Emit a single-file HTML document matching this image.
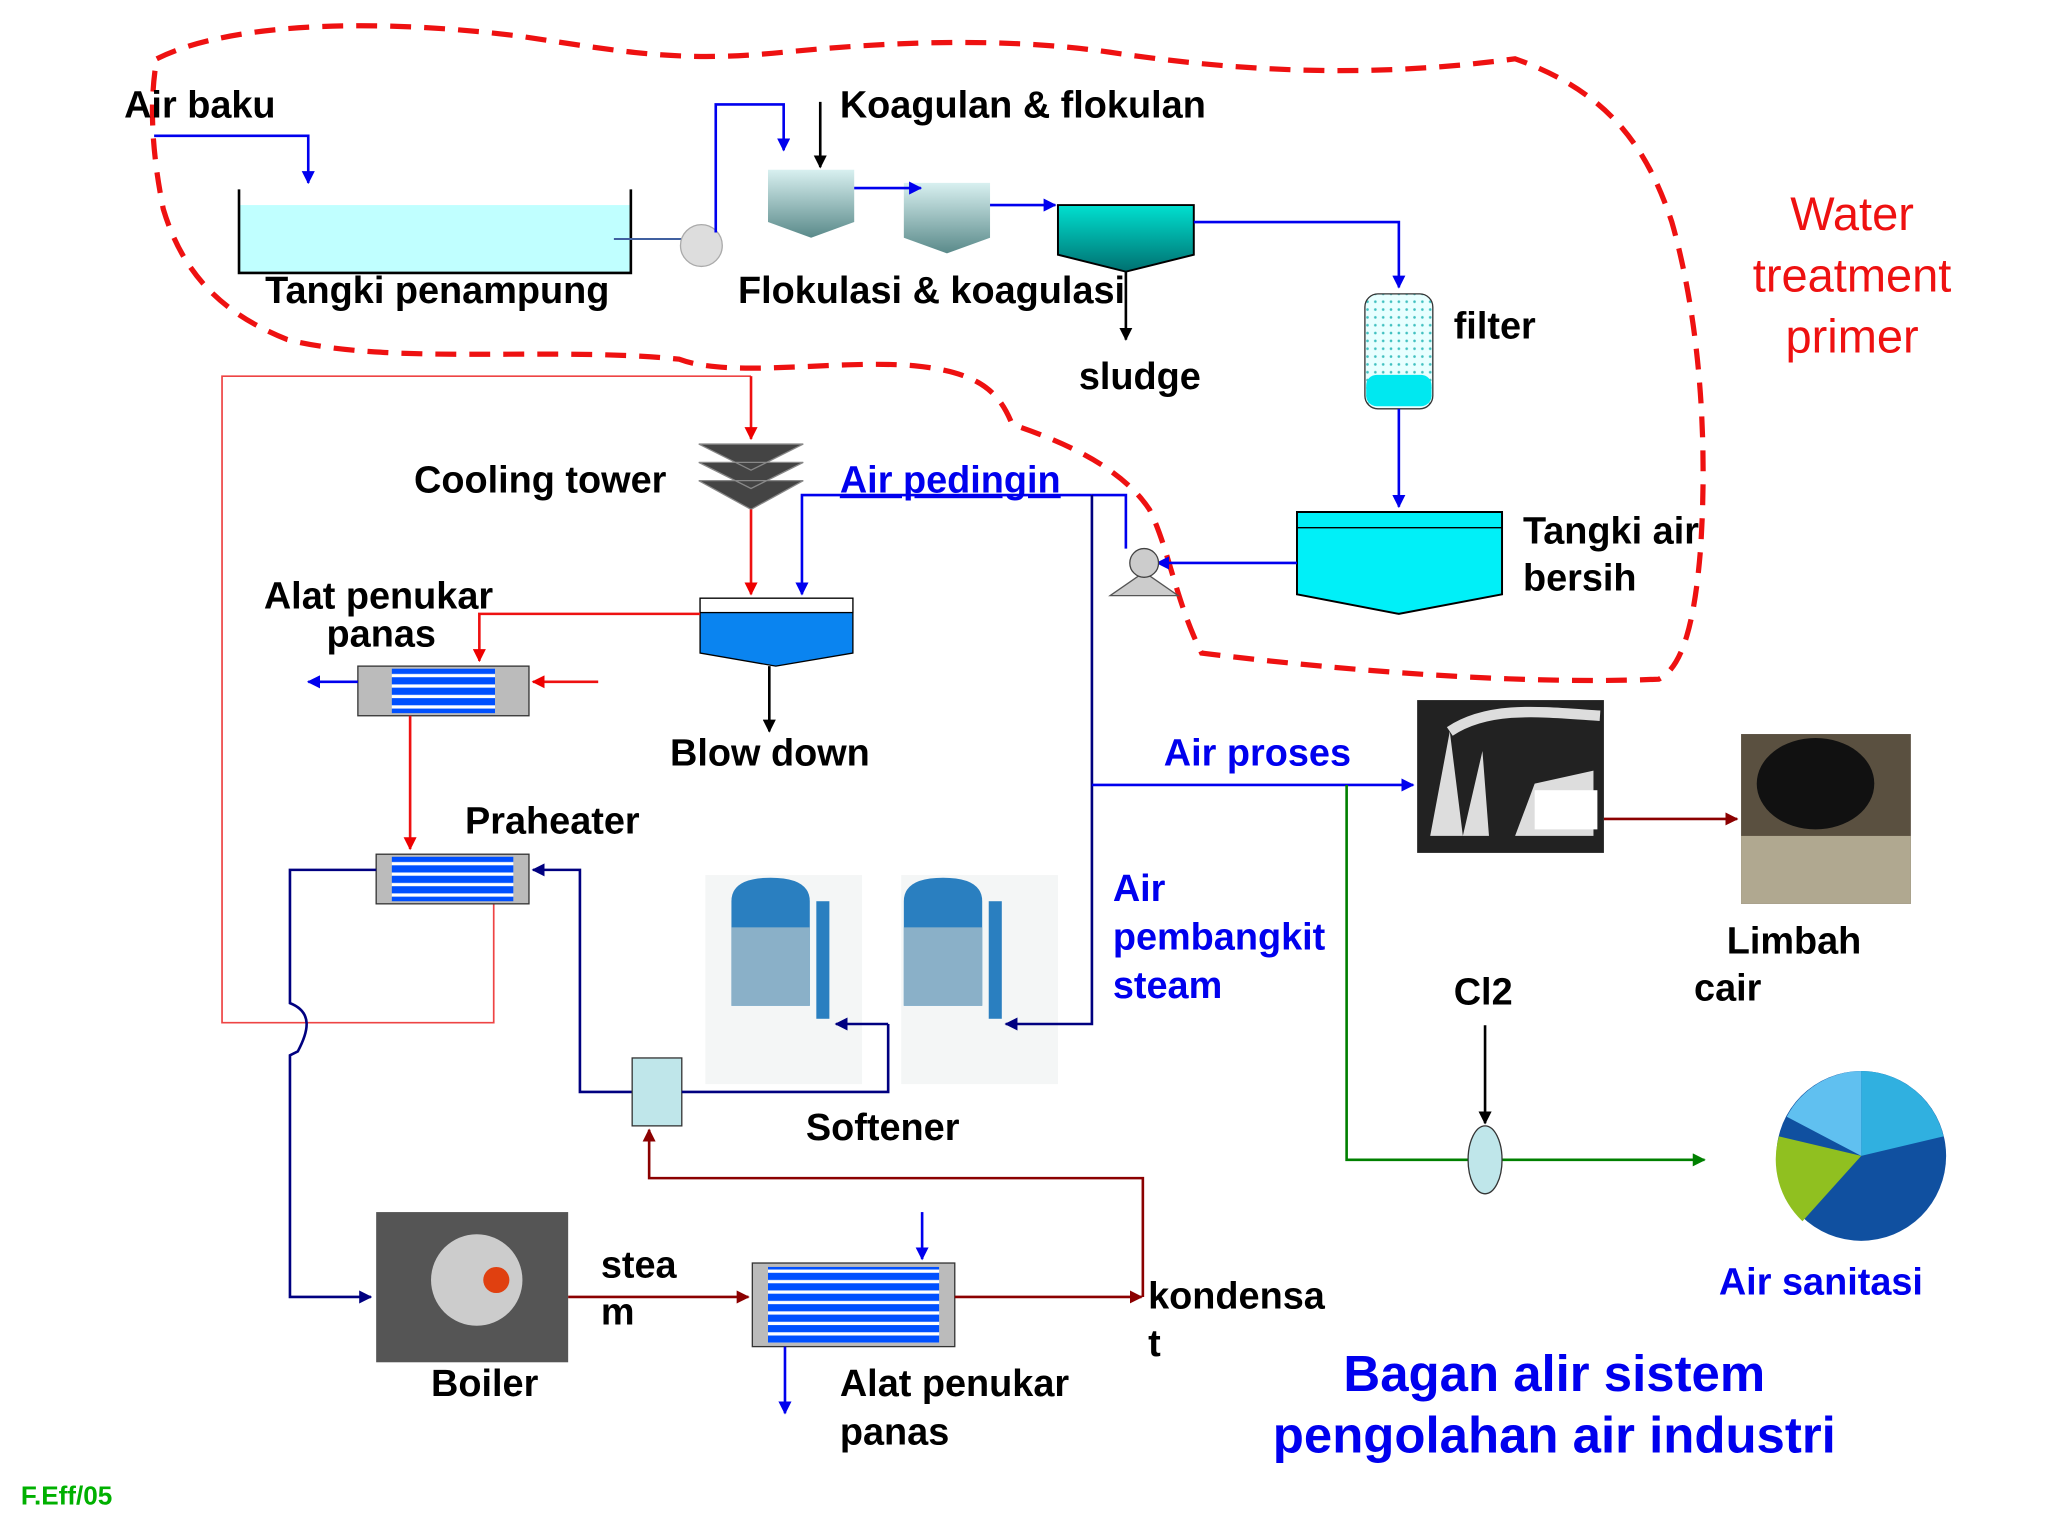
<!DOCTYPE html>
<html><head><meta charset="utf-8"><style>
html,body{margin:0;padding:0;background:#fff;}
svg{display:block;}
text{font-family:"Liberation Sans",Arial,sans-serif;font-weight:bold;}
</style></head><body>
<svg width="2048" height="1536" viewBox="0 0 1568 1176" xmlns="http://www.w3.org/2000/svg">
<defs>
<marker id="ab" markerWidth="10" markerHeight="10" refX="9" refY="5" orient="auto" markerUnits="userSpaceOnUse"><path d="M0,0 L10,5 L0,10 z" fill="#0000ee"/></marker>
<marker id="ar" markerWidth="10" markerHeight="10" refX="9" refY="5" orient="auto" markerUnits="userSpaceOnUse"><path d="M0,0 L10,5 L0,10 z" fill="#ee0000"/></marker>
<marker id="ak" markerWidth="10" markerHeight="10" refX="9" refY="5" orient="auto" markerUnits="userSpaceOnUse"><path d="M0,0 L10,5 L0,10 z" fill="#000"/></marker>
<marker id="am" markerWidth="10" markerHeight="10" refX="9" refY="5" orient="auto" markerUnits="userSpaceOnUse"><path d="M0,0 L10,5 L0,10 z" fill="#8b0000"/></marker>
<marker id="an" markerWidth="10" markerHeight="10" refX="9" refY="5" orient="auto" markerUnits="userSpaceOnUse"><path d="M0,0 L10,5 L0,10 z" fill="#000080"/></marker>
<marker id="ag" markerWidth="10" markerHeight="10" refX="9" refY="5" orient="auto" markerUnits="userSpaceOnUse"><path d="M0,0 L10,5 L0,10 z" fill="#008000"/></marker>
<linearGradient id="gt" x1="0" y1="0" x2="0" y2="1"><stop offset="0" stop-color="#d8f0f0"/><stop offset="1" stop-color="#5a8a8a"/></linearGradient>
<linearGradient id="gc" x1="0" y1="0" x2="0" y2="1"><stop offset="0" stop-color="#00e0d0"/><stop offset="1" stop-color="#007070"/></linearGradient>
<pattern id="hx" width="8" height="8" patternUnits="userSpaceOnUse"><rect width="8" height="8" fill="#0050ff"/><rect y="4" width="8" height="2.5" fill="#fff"/></pattern>
<pattern id="dots" width="6" height="6" patternUnits="userSpaceOnUse"><rect width="6" height="6" fill="#e8ffff"/><circle cx="3" cy="3" r="1" fill="#40c0c0"/></pattern>
</defs>

<path d="M120,45 C180,15 300,15 400,28 C480,40 520,48 600,40 C700,30 780,30 850,40 C950,55 1050,60 1160,45 C1230,70 1260,110 1280,170 C1300,240 1308,330 1302,420 C1298,470 1290,510 1270,520 C1150,525 1000,510 920,500 C900,460 895,420 880,390 C860,360 820,340 775,325 C765,300 750,285 700,280 C640,275 560,290 520,275 C420,265 300,280 220,260 C170,240 140,210 125,160 C115,110 115,75 120,45 Z" fill="none" stroke="#ee1111" stroke-width="4" stroke-dasharray="16,10"/>

<text x="95" y="90" font-size="29">Air baku</text>
<polyline points="118,104 236,104 236,140" fill="none" stroke="#0000ee" stroke-width="2" marker-end="url(#ab)"/>
<rect x="183" y="157" width="300" height="52" fill="#c0ffff"/>
<polyline points="183,145 183,209 483,209 483,145" fill="none" stroke="#000" stroke-width="2"/>
<text x="203" y="232" font-size="29">Tangki penampung</text>
<line x1="470" y1="183" x2="525" y2="183" stroke="#4060a0" stroke-width="1.5"/>
<circle cx="537" cy="188" r="16" fill="#ddd" stroke="#aaa"/>
<polyline points="548,178 548,80 600,80 600,115" fill="none" stroke="#0000ee" stroke-width="2" marker-end="url(#ab)"/>
<line x1="628" y1="78" x2="628" y2="128" stroke="#000" stroke-width="2" marker-end="url(#ak)"/>
<text x="643" y="90" font-size="29">Koagulan &amp; flokulan</text>
<path d="M588,130 L654,130 L654,170 L621,182 L588,170 Z" fill="url(#gt)"/>
<path d="M692,140 L758,140 L758,182 L725,194 L692,182 Z" fill="url(#gt)"/>
<line x1="654" y1="144" x2="705" y2="144" stroke="#0000ee" stroke-width="2" marker-end="url(#ab)"/>
<line x1="758" y1="157" x2="808" y2="157" stroke="#0000ee" stroke-width="2" marker-end="url(#ab)"/>
<path d="M810,157 L914,157 L914,195 L862,208 L810,195 Z" fill="url(#gc)" stroke="#000" stroke-width="1.5"/>
<line x1="862" y1="208" x2="862" y2="260" stroke="#000" stroke-width="2" marker-end="url(#ak)"/>
<text x="565" y="232" font-size="29">Flokulasi &amp; koagulasi</text>
<text x="826" y="298" font-size="29">sludge</text>
<polyline points="914,170 1071,170 1071,220" fill="none" stroke="#0000ee" stroke-width="2" marker-end="url(#ab)"/>
<rect x="1045" y="225" width="52" height="88" rx="10" fill="url(#dots)" stroke="#333"/>
<rect x="1046" y="287" width="50" height="24" rx="8" fill="#00e8f0"/>
<text x="1113" y="259" font-size="29">filter</text>
<line x1="1071" y1="313" x2="1071" y2="388" stroke="#0000ee" stroke-width="2" marker-end="url(#ab)"/>
<path d="M993,392 L1150,392 L1150,455 L1071,470 L993,455 Z" fill="#00f0f8" stroke="#000" stroke-width="1.5"/>
<line x1="993" y1="404" x2="1150" y2="404" stroke="#000"/>
<text x="1166" y="416" font-size="29">Tangki air</text>
<text x="1166" y="452" font-size="29">bersih</text>
<line x1="993" y1="431" x2="886" y2="431" stroke="#0000ee" stroke-width="2" marker-end="url(#ab)"/>
<path d="M850,456 L876,438 L902,456 Z" fill="#ccc" stroke="#555"/>
<circle cx="876" cy="431" r="11" fill="#ccc" stroke="#444"/>
<polyline points="862,420 862,379 836,379" fill="none" stroke="#0000ee" stroke-width="2"/>
<text x="1418" y="176" font-size="36" fill="#ee1111" style="font-weight:normal" text-anchor="middle">Water</text>
<text x="1418" y="223" font-size="36" fill="#ee1111" style="font-weight:normal" text-anchor="middle">treatment</text>
<text x="1418" y="270" font-size="36" fill="#ee1111" style="font-weight:normal" text-anchor="middle">primer</text>

<polyline points="575,288 170,288 170,783 378,783 378,690" fill="none" stroke="#ee4444" stroke-width="1.3"/>
<line x1="575" y1="288" x2="575" y2="336" stroke="#ee1111" stroke-width="2" marker-end="url(#ar)"/>
<path d="M535,340 L615,340 L575,360 Z M535,354 L615,354 L575,374 Z M535,368 L615,368 L575,390 Z" fill="#444" stroke="#888"/>
<text x="317" y="377" font-size="29">Cooling tower</text>
<text x="643" y="377" font-size="29" fill="#0000ee" text-decoration="underline">Air pedingin</text>
<line x1="575" y1="390" x2="575" y2="455" stroke="#ee1111" stroke-width="2" marker-end="url(#ar)"/>
<polyline points="836,379 614,379 614,455" fill="none" stroke="#0000ee" stroke-width="2" marker-end="url(#ab)"/>
<path d="M536,458 L653,458 L653,500 L594,510 L536,500 Z" fill="#0a84f0" stroke="#000"/>
<rect x="536" y="458" width="117" height="11" fill="#fff" stroke="#000"/>
<line x1="589" y1="510" x2="589" y2="560" stroke="#000" stroke-width="2" marker-end="url(#ak)"/>
<text x="513" y="586" font-size="29">Blow down</text>
<text x="202" y="466" font-size="29">Alat penukar</text>
<text x="250" y="495" font-size="29">panas</text>
<polyline points="536,470 367,470 367,506" fill="none" stroke="#ee1111" stroke-width="2" marker-end="url(#ar)"/>
<rect x="274" y="510" width="131" height="38" fill="#bbb" stroke="#333"/>
<rect x="300" y="512" width="79" height="34" fill="url(#hx)"/>
<line x1="458" y1="522" x2="408" y2="522" stroke="#ee1111" stroke-width="2" marker-end="url(#ar)"/>
<line x1="274" y1="522" x2="236" y2="522" stroke="#0000ee" stroke-width="2" marker-end="url(#ab)"/>
<line x1="314" y1="548" x2="314" y2="650" stroke="#ee1111" stroke-width="2" marker-end="url(#ar)"/>
<text x="356" y="638" font-size="29">Praheater</text>
<rect x="288" y="654" width="117" height="38" fill="#bbb" stroke="#333"/>
<rect x="300" y="656" width="93" height="34" fill="url(#hx)"/>
<path d="M288,666 L222,666 L222,768 C240,775 236,790 228,805 L222,808 L222,993 L284,993" fill="none" stroke="#000080" stroke-width="2" marker-end="url(#an)"/>
<polyline points="484,836 444,836 444,666 408,666" fill="none" stroke="#000080" stroke-width="2" marker-end="url(#an)"/>
<rect x="484" y="810" width="38" height="52" fill="#bfe6ea" stroke="#333"/>
<g>
<rect x="540" y="670" width="120" height="160" fill="#f4f6f6"/>
<path d="M560,690 Q560,672 590,672 Q620,672 620,690 L620,770 L560,770 Z" fill="#2a7fc0"/>
<rect x="560" y="710" width="60" height="60" fill="#8ab0c8"/>
<rect x="625" y="690" width="10" height="90" fill="#2a7fc0"/>
<rect x="690" y="670" width="120" height="160" fill="#f4f6f6"/>
<path d="M692,690 Q692,672 722,672 Q752,672 752,690 L752,770 L692,770 Z" fill="#2a7fc0"/>
<rect x="692" y="710" width="60" height="60" fill="#8ab0c8"/>
<rect x="757" y="690" width="10" height="90" fill="#2a7fc0"/>
</g>
<polyline points="836,379 836,784 770,784" fill="none" stroke="#000080" stroke-width="2" marker-end="url(#an)"/>
<polyline points="680,784 680,836 588,836" fill="none" stroke="#000080" stroke-width="2"/>
<polyline points="680,784 640,784" fill="none" stroke="#000080" stroke-width="2" marker-end="url(#an)"/>
<polyline points="588,836 522,836" fill="none" stroke="#000080" stroke-width="2"/>
<text x="617" y="873" font-size="29">Softener</text>
<text x="852" y="690" font-size="29" fill="#0000ee">Air</text>
<text x="852" y="727" font-size="29" fill="#0000ee">pembangkit</text>
<text x="852" y="764" font-size="29" fill="#0000ee">steam</text>
<line x1="836" y1="601" x2="1082" y2="601" stroke="#0000ee" stroke-width="2" marker-end="url(#ab)"/>
<text x="891" y="586" font-size="29" fill="#0000ee">Air proses</text>
<rect x="1085" y="536" width="143" height="117" fill="#222"/>
<path d="M1095,640 L1110,560 L1120,640 L1135,575 L1140,640 L1220,640 L1220,590 L1175,600 L1160,640 Z" fill="#ddd"/>
<rect x="1175" y="605" width="48" height="30" fill="#fff"/>
<path d="M1110,560 C1140,540 1180,545 1225,548" fill="none" stroke="#ddd" stroke-width="8"/>
<line x1="1228" y1="627" x2="1330" y2="627" stroke="#8b0000" stroke-width="2" marker-end="url(#am)"/>
<rect x="1333" y="562" width="130" height="130" fill="#5a5040"/>
<ellipse cx="1390" cy="600" rx="45" ry="35" fill="#111"/>
<rect x="1333" y="640" width="130" height="52" fill="#b0a890"/>
<text x="1322" y="730" font-size="29">Limbah</text>
<text x="1297" y="766" font-size="29">cair</text>
<polyline points="1031,601 1031,888 1305,888" fill="none" stroke="#008000" stroke-width="2" marker-end="url(#ag)"/>
<ellipse cx="1137" cy="888" rx="13" ry="26" fill="#bfe6ea" stroke="#333"/>
<line x1="1137" y1="785" x2="1137" y2="860" stroke="#000" stroke-width="2" marker-end="url(#ak)"/>
<text x="1113" y="769" font-size="29">Cl2</text>
<circle cx="1425" cy="885" r="65" fill="#1050a0"/>
<path d="M1425,885 L1425,820 A65,65 0 0,1 1488,870 Z" fill="#30b0e0"/>
<path d="M1425,885 L1368,855 A65,65 0 0,1 1425,820 Z" fill="#60c0f0"/>
<path d="M1425,885 L1380,935 A65,65 0 0,1 1362,870 Z" fill="#90c020"/>
<text x="1316" y="991" font-size="29" fill="#0000ee">Air sanitasi</text>
<rect x="288" y="928" width="147" height="115" fill="#555"/>
<circle cx="365" cy="980" r="35" fill="#ccc"/>
<circle cx="380" cy="980" r="10" fill="#e04010"/>
<text x="330" y="1069" font-size="29">Boiler</text>
<line x1="435" y1="993" x2="573" y2="993" stroke="#8b0000" stroke-width="2" marker-end="url(#am)"/>
<text x="460" y="978" font-size="29">stea</text>
<text x="460" y="1014" font-size="29">m</text>
<rect x="576" y="967" width="155" height="64" fill="#bbb" stroke="#333"/>
<rect x="588" y="970" width="131" height="58" fill="url(#hx)"/>
<line x1="706" y1="928" x2="706" y2="964" stroke="#0000ee" stroke-width="2" marker-end="url(#ab)"/>
<line x1="601" y1="1031" x2="601" y2="1082" stroke="#0000ee" stroke-width="2" marker-end="url(#ab)"/>
<line x1="731" y1="993" x2="874" y2="993" stroke="#8b0000" stroke-width="2" marker-end="url(#am)"/>
<polyline points="875,993 875,902 497,902 497,865" fill="none" stroke="#8b0000" stroke-width="2" marker-end="url(#am)"/>
<text x="879" y="1002" font-size="29">kondensa</text>
<text x="879" y="1038" font-size="29">t</text>
<text x="643" y="1069" font-size="29">Alat penukar</text>
<text x="643" y="1106" font-size="29">panas</text>
<text x="1190" y="1065" font-size="39" fill="#0000ee" text-anchor="middle">Bagan alir sistem</text>
<text x="1190" y="1112" font-size="39" fill="#0000ee" text-anchor="middle">pengolahan air industri</text>
<text x="16" y="1152" font-size="20" fill="#00b000">F.Eff/05</text>
</svg>
</body></html>
